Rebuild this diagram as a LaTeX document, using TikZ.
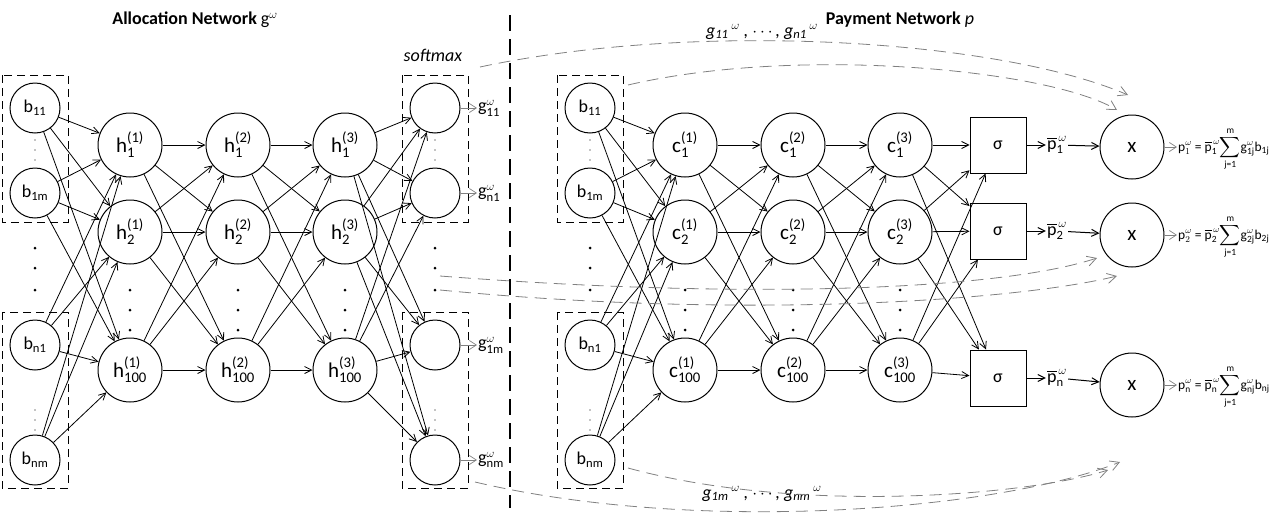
\documentclass[tikz,border=0pt]{standalone}
\usepackage{amsmath}
\usepackage{fontspec}
\setmainfont{Carlito}
\usetikzlibrary{arrows.meta}
\newcommand\sx[2]{$^{\text{#2}}_{\text{#1}}$}
\newcommand\pb[1]{$\overline{\text{p}}^{\,\omega}_{\text{#1}}$}
\begin{document}
\begin{tikzpicture}[x=1pt,y=-1pt,
  neu/.style={circle,draw,line width=1pt,minimum size=50pt,inner sep=0pt,font=\fontsize{18}{18}\selectfont},
  hid/.style={circle,draw,line width=1pt,minimum size=64pt,inner sep=0pt,font=\fontsize{21}{21}\selectfont},
  sig/.style={draw,line width=1pt,minimum size=56pt,inner sep=0pt,font=\fontsize{18}{18}\selectfont},
  box/.style={draw,line width=1pt,dash pattern=on 8pt off 5pt},
  con/.style={-{Straight Barb[length=7pt,width=7pt]},line width=0.8pt},
  gcon/.style={-{Straight Barb[length=7pt,width=9pt]},gray,line width=0.7pt},
  gdash/.style={-{Straight Barb[length=9pt,width=10pt]},gray,line width=0.8pt,dash pattern=on 12pt off 7pt},
  lab/.style={font=\fontsize{18}{18}\selectfont,inner sep=1pt},
  fla/.style={font=\fontsize{13.5}{13.5}\selectfont,inner sep=1pt,anchor=west},
  dot/.style={circle,fill,inner sep=0pt,minimum size=3pt},
  sdot/.style={circle,fill,inner sep=0pt,minimum size=1.2pt}]
\useasboundingbox (0,0) rectangle (1286,517);
% titles
\node[font=\fontsize{18}{18}\selectfont\bfseries] (t1) at (195,20) {Allocation Network \textmd{g$^{\omega}$}};
\node[font=\fontsize{18}{18}\selectfont\bfseries] (t2) at (900,20) {Payment Network \textmd{\textit{p}}};
\node[font=\fontsize{18}{18}\selectfont\itshape] (sm) at (433,55) {softmax};
\draw[line width=2.2pt,dash pattern=on 16pt off 8pt] (510,15) -- (510,508);
% input and softmax boxes
\foreach \X in {35, 435, 590}{
  \draw[box] (\X-33,75) rectangle (\X+33,222);
  \draw[box] (\X-33,312) rectangle (\X+33,488);
  \foreach \yy in {140,150,160,410,420,430} \node[sdot] at (\X,\yy) {};
  \foreach \yy in {248,268,290} \node[dot] at (\X,\yy) {};
}
\node[neu] (a1) at (35,108) {b\textsubscript{11}};
\node[neu] (a2) at (35,193) {b\textsubscript{1m}};
\node[neu] (a3) at (35,345) {b\textsubscript{n1}};
\node[neu] (a4) at (35,460) {b\textsubscript{nm}};
\node[neu] (q1) at (590,108) {b\textsubscript{11}};
\node[neu] (q2) at (590,193) {b\textsubscript{1m}};
\node[neu] (q3) at (590,345) {b\textsubscript{n1}};
\node[neu] (q4) at (590,460) {b\textsubscript{nm}};
\node[neu] (s1) at (435,108) {};
\node[neu] (s2) at (435,193) {};
\node[neu] (s3) at (435,345) {};
\node[neu] (s4) at (435,460) {};
% hidden layers
\foreach \L/\X/\N/\c in {1/130/h/h, 2/238/i/h, 3/345/k/h, 1/685/c/c, 2/793/d/c, 3/900/e/c}{
  \node[hid] (\N1) at (\X,145) {\c\sx{1}{(\L)}};
  \node[hid] (\N2) at (\X,232) {\c\sx{2}{(\L)}};
  \node[hid] (\N3) at (\X,370) {\c\sx{100}{(\L)}};
  \foreach \yy in {290,310,330} \node[dot] at (\X,\yy) {};
}
\foreach \i in {1,...,4} \foreach \j in {1,2,3} {\draw[con] (a\i) -- (h\j); \draw[con] (q\i) -- (c\j);}
\foreach \i in {1,2,3} \foreach \j in {1,2,3} {
  \draw[con] (h\i) -- (i\j); \draw[con] (i\i) -- (k\j);
  \draw[con] (c\i) -- (d\j); \draw[con] (d\i) -- (e\j);}
\foreach \i in {1,2,3} \foreach \j in {1,...,4} \draw[con] (k\i) -- (s\j);
% sigma boxes
\node[sig] (g1) at (998,145) {σ};
\node[sig] (g2) at (998,231) {σ};
\node[sig] (g3) at (998,378) {σ};
\foreach \i in {1,2,3} \foreach \j in {1,2,3} \draw[con] (e\i) -- (g\j);
% products
\node[hid] (x1) at (1132,147) {x};
\node[hid] (x2) at (1132,235) {x};
\node[hid] (x3) at (1132,385) {x};
\foreach \i/\n in {1/1,2/2,3/n}{
  \node[lab] (pb\i) at (1057,0|-g\i) {\pb{\n}};
  \draw[con,line width=1pt] (g\i) -- (pb\i);
  \draw[con,line width=1pt] (pb\i) -- (x\i);
}
\node[fla] (f1) at (1177,149) {p$^{\omega}_{1}$ = \pb{1}$\displaystyle\sum_{\text{j=1}}^{\text{m}}$g$^{\omega}_{\text{1j}}$b$_{\text{1j}}$};
\node[fla] (f2) at (1177,237) {p$^{\omega}_{2}$ = \pb{2}$\displaystyle\sum_{\text{j=1}}^{\text{m}}$g$^{\omega}_{\text{2j}}$b$_{\text{2j}}$};
\node[fla] (f3) at (1177,387) {p$^{\omega}_{\text{n}}$ = \pb{n}$\displaystyle\sum_{\text{j=1}}^{\text{m}}$g$^{\omega}_{\text{nj}}$b$_{\text{nj}}$};
\foreach \i in {1,2,3} \draw[gcon] (x\i) -- (f\i.west|-x\i);
% softmax outputs
\node[lab,anchor=west] (o1) at (477,108) {g$^{\omega}_{\text{11}}$};
\node[lab,anchor=west] (o2) at (477,193) {g$^{\omega}_{\text{n1}}$};
\node[lab,anchor=west] (o3) at (477,345) {g$^{\omega}_{\text{1m}}$};
\node[lab,anchor=west] (o4) at (477,460) {g$^{\omega}_{\text{nm}}$};
\foreach \i in {1,...,4} \draw[gcon] (s\i) -- (o\i);
% dashed information flows
\node[font=\fontsize{18}{18}\selectfont\itshape] (tl) at (762,32) {g\textsubscript{11}\,$^{\omega}$ , $\cdots$, g\textsubscript{n1}\,$^{\omega}$};
\node[font=\fontsize{18}{18}\selectfont\itshape] (bl) at (762,494) {g\textsubscript{1m}\,$^{\omega}$ , $\cdots$, g\textsubscript{nm}\,$^{\omega}$};
\coordinate (u1) at (480,67); \coordinate (u2) at (628,85);
\coordinate (v1) at (1128,95); \coordinate (v2) at (1117,110);
\draw[gdash] (u1) .. controls (700,20) and (1000,40) .. (v1);
\draw[gdash] (u2) .. controls (800,45) and (1050,70) .. (v2);
\coordinate (m1) at (440,276); \coordinate (m2) at (440,290);
\coordinate (n1) at (1097,258); \coordinate (n2) at (1117,276);
\draw[gdash] (m1) .. controls (750,300) and (1000,290) .. (n1);
\draw[gdash] (m2) .. controls (750,320) and (1020,300) .. (n2);
\coordinate (w1) at (475,482); \coordinate (w2) at (628,468);
\coordinate (z1) at (1120,462); \coordinate (z2) at (1108,470);
\draw[gdash] (w1) .. controls (700,535) and (1000,510) .. (z1);
\draw[gdash] (w2) .. controls (800,515) and (1030,495) .. (z2);
\end{tikzpicture}
\end{document}
